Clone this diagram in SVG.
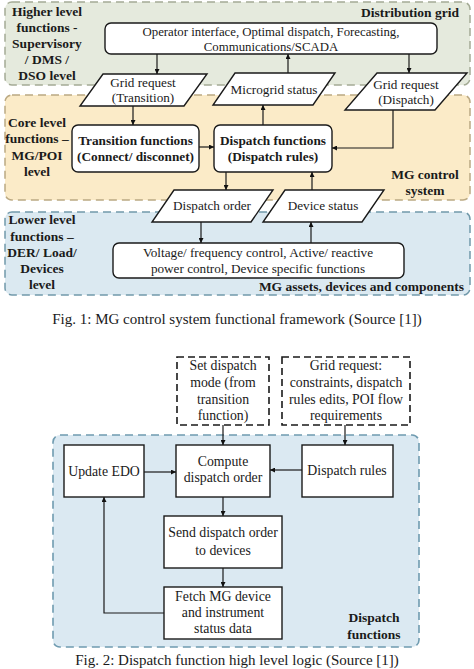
<svg xmlns="http://www.w3.org/2000/svg" width="474" height="669" viewBox="0 0 474 669">
<defs>
<marker id="ah" viewBox="0 0 10 10" refX="10" refY="5" markerWidth="5" markerHeight="5" orient="auto" markerUnits="userSpaceOnUse">
<path d="M0,0 L10,5 L0,10 z" fill="#111"/>
</marker>
<style>
.t{font-family:"Liberation Serif","Times New Roman",serif;fill:#1a1a1a;}
.s{font-size:13.2px;}
.b{font-size:13.5px;font-weight:bold;}
.bb{font-size:13.3px;font-weight:bold;}
.f2{font-size:13.8px;}
.cap{font-size:15px;}
.box{fill:#fff;stroke:#1a1a1a;stroke-width:1.4;}
.par{fill:#fff;stroke:#1a1a1a;stroke-width:1.4;}
.c{fill:none;stroke:#1a1a1a;stroke-width:1.2;marker-end:url(#ah);}
.dash{fill:#fff;stroke:#1a1a1a;stroke-width:1.6;stroke-dasharray:7,4;}
</style>
</defs>
<rect width="474" height="669" fill="#fff"/>

<!-- Fig 1 regions -->
<g id="region-higher">
<rect x="5" y="2" width="465" height="83" rx="7" fill="#e5eadd" stroke="#a4ab95" stroke-width="1.5" stroke-dasharray="8,5"/>
<text class="t b" text-anchor="middle"><tspan x="47" y="16">Higher level</tspan><tspan x="47" y="32">functions -</tspan><tspan x="47" y="48">Supervisory</tspan><tspan x="47" y="64">/ DMS /</tspan><tspan x="47" y="80">DSO level</tspan></text>
<text class="t b" x="459" y="17" text-anchor="end">Distribution grid</text>
</g>
<g id="region-core">
<rect x="5" y="95" width="465" height="105" rx="7" fill="#fbebc8" stroke="#bba982" stroke-width="1.5" stroke-dasharray="8,5"/>
<text class="t b" text-anchor="middle"><tspan x="37" y="127">Core level</tspan><tspan x="37" y="143">functions –</tspan><tspan x="37" y="160">MG/POI</tspan><tspan x="37" y="176">level</tspan></text>
<text class="t b" text-anchor="middle"><tspan x="425" y="179">MG control</tspan><tspan x="425" y="195">system</tspan></text>
</g>
<g id="region-lower">
<rect x="5" y="212" width="465" height="83" rx="7" fill="#dbe9f1" stroke="#7199aa" stroke-width="1.5" stroke-dasharray="8,5"/>
<text class="t b" text-anchor="middle"><tspan x="42" y="224">Lower level</tspan><tspan x="42" y="241">functions –</tspan><tspan x="42" y="257">DER/ Load/</tspan><tspan x="42" y="273">Devices</tspan><tspan x="42" y="289">level</tspan></text>
<text class="t b" x="464" y="291" text-anchor="end">MG assets, devices and components</text>
</g>

<!-- Fig 1 nodes -->
<g id="n-operator">
<rect class="box" x="105" y="23" width="332" height="31" rx="6"/>
<text class="t" text-anchor="middle" style="font-size:12.8px"><tspan x="271" y="36">Operator interface, Optimal dispatch, Forecasting,</tspan><tspan x="271" y="50.5">Communications/SCADA</tspan></text>
</g>
<g id="n-gridreq-t">
<polygon class="par" points="103,74 207,74 184,106 80,106"/>
<text class="t s" text-anchor="middle"><tspan x="143" y="87">Grid request</tspan><tspan x="143" y="102">(Transition)</tspan></text>
</g>
<g id="n-microgrid">
<polygon class="par" points="235,73 335,73 313,105 213,105"/>
<text class="t s" x="274" y="94" text-anchor="middle">Microgrid status</text>
</g>
<g id="n-gridreq-d">
<polygon class="par" points="377,73 467,73 435,110 345,110"/>
<text class="t s" text-anchor="middle"><tspan x="406" y="89">Grid request</tspan><tspan x="406" y="104">(Dispatch)</tspan></text>
</g>
<g id="n-transition">
<rect class="box" x="72" y="125" width="127" height="47" rx="6"/>
<text class="t bb" text-anchor="middle"><tspan x="135.5" y="145">Transition functions</tspan><tspan x="135.5" y="161">(Connect/ disconnet)</tspan></text>
</g>
<g id="n-dispatch">
<rect class="box" x="214" y="125" width="118" height="47" rx="6"/>
<text class="t bb" text-anchor="middle"><tspan x="273" y="145">Dispatch functions</tspan><tspan x="273" y="161">(Dispatch rules)</tspan></text>
</g>
<g id="n-dispatch-order">
<polygon class="par" points="174,190 273,190 251,222 152,222"/>
<text class="t s" x="212" y="210" text-anchor="middle">Dispatch order</text>
</g>
<g id="n-device-status">
<polygon class="par" points="285,190 384,190 362,222 263,222"/>
<text class="t s" x="323" y="210" text-anchor="middle">Device status</text>
</g>
<g id="n-voltage">
<rect class="box" x="113" y="243" width="291" height="35" rx="6"/>
<text class="t s" text-anchor="middle"><tspan x="258" y="257">Voltage/ frequency control, Active/ reactive</tspan><tspan x="258" y="273">power control, Device specific functions</tspan></text>
</g>

<g id="connectors-fig1">
<path class="c" d="M157,54 V74"/>
<path class="c" d="M288,73 V54"/>
<path class="c" d="M409,54 V73"/>
<path class="c" d="M133,106 V125"/>
<path class="c" d="M263,125 V105"/>
<path class="c" d="M393,110 V148 H332"/>
<path class="c" d="M199,147 H214"/>
<path class="c" d="M226,172 V190"/>
<path class="c" d="M312,190 V172"/>
<path class="c" d="M201,222 V243"/>
<path class="c" d="M311,243 V222"/>
</g>

<text class="t cap" x="237" y="324" text-anchor="middle">Fig. 1: MG control system functional framework (Source [1])</text>

<!-- Fig 2 -->
<g id="region-dispatch">
<rect x="53" y="435" width="366" height="212" rx="7" fill="#dbe9f2" stroke="#6f9bb0" stroke-width="1.6" stroke-dasharray="8,5"/>
<text class="t b" text-anchor="middle"><tspan x="374" y="622">Dispatch</tspan><tspan x="374" y="639">functions</tspan></text>
</g>
<g id="n-setmode">
<rect class="dash" x="177" y="357" width="92" height="68"/>
<text class="t f2" text-anchor="middle"><tspan x="223" y="370">Set dispatch</tspan><tspan x="223" y="387">mode (from</tspan><tspan x="223" y="404">transition</tspan><tspan x="223" y="420">function)</tspan></text>
</g>
<g id="n-gridreq">
<rect class="dash" x="282" y="357" width="128" height="68"/>
<text class="t f2" text-anchor="middle"><tspan x="346" y="370">Grid request:</tspan><tspan x="346" y="387">constraints, dispatch</tspan><tspan x="346" y="404">rules edits, POI flow</tspan><tspan x="346" y="420">requirements</tspan></text>
</g>
<g id="n-update">
<rect class="box" x="64" y="445" width="80" height="52"/>
<text class="t f2" x="104" y="476" text-anchor="middle">Update EDO</text>
</g>
<g id="n-compute">
<rect class="box" x="176" y="445" width="94" height="52"/>
<text class="t f2" text-anchor="middle"><tspan x="223" y="466">Compute</tspan><tspan x="223" y="482">dispatch order</tspan></text>
</g>
<g id="n-rules">
<rect class="box" x="302" y="445" width="91" height="52"/>
<text class="t f2" x="347" y="475" text-anchor="middle">Dispatch rules</text>
</g>
<g id="n-send">
<rect class="box" x="164" y="516" width="118" height="52"/>
<text class="t f2" text-anchor="middle"><tspan x="223" y="537">Send dispatch order</tspan><tspan x="223" y="555">to devices</tspan></text>
</g>
<g id="n-fetch">
<rect class="box" x="164" y="587" width="118" height="52"/>
<text class="t f2" text-anchor="middle"><tspan x="223" y="601">Fetch MG device</tspan><tspan x="223" y="617">and instrument</tspan><tspan x="223" y="633">status data</tspan></text>
</g>
<g id="connectors-fig2">
<path class="c" d="M223,425 V445"/>
<path class="c" d="M345,425 V445"/>
<path class="c" d="M302,470 H270"/>
<path class="c" d="M144,472 H176"/>
<path class="c" d="M223,497 V516"/>
<path class="c" d="M223,568 V587"/>
<path class="c" d="M164,613 H104 V497"/>
</g>
<text class="t cap" x="237" y="665" text-anchor="middle">Fig. 2: Dispatch function high level logic (Source [1])</text>
</svg>
